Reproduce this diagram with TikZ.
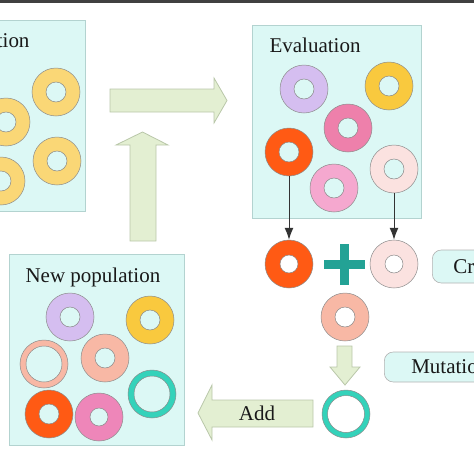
\documentclass[tikz,border=0pt]{standalone}
\usepackage{fontspec}
\setmainfont{Liberation Serif}
\usepackage{tikz}
\usetikzlibrary{arrows.meta,positioning}

\definecolor{panelcyan}{HTML}{DCF8F5}
\definecolor{panelline}{HTML}{B3D3D0}
\definecolor{arrowgreen}{HTML}{E3EFD2}
\definecolor{arrowline}{HTML}{B9C7A9}
\definecolor{goldA}{HTML}{FAD776}
\definecolor{goldB}{HTML}{F9C93E}
\definecolor{lilac}{HTML}{D5BEF0}
\definecolor{rose}{HTML}{EE80AB}
\definecolor{flame}{HTML}{FF5A14}
\definecolor{candy}{HTML}{F5A8CF}
\definecolor{blush}{HTML}{FBE2E0}
\definecolor{peach}{HTML}{F8B8A5}
\definecolor{aqua}{HTML}{34D2BA}
\definecolor{plusteal}{HTML}{23A295}
\definecolor{fuchsia}{HTML}{EE86B9}

% one individual: ring node plus coloured band with a hole
\newcommand{\donut}[4]{%
	\node[ringnode] (#1) at (#2) {};
	\draw[ringline, fill=#3, even odd rule] (#1.center) circle (24pt) (#1.center) circle (#4pt);
}

\begin{document}
\begin{tikzpicture}[
			x = 1pt, y = -1pt,
			every node/.style = {font = \fontsize{21}{24}\selectfont, text = black!90},
			ringnode/.style = {circle, minimum size = 48pt, inner sep = 0pt},
			ringline/.style = {draw = black!45, line width = 0.5pt},
			panel/.style = {draw = panelline, fill = panelcyan, line width = 0.8pt},
			bigarrow/.style = {draw = arrowline, fill = arrowgreen, line width = 0.8pt},
			tagbox/.style = {draw = black!30, fill = panelcyan, rounded corners = 9pt, line width = 0.6pt, anchor = west},
			pick/.style = {draw = black!80, line width = 1pt, -{Latex[length = 12pt, width = 9pt]}}
			]

			\useasboundingbox (0,0) rectangle (474,474);
			\fill[black!75] (0,0) rectangle (474,2.5);

			% initial population
			\draw[panel] (-10,20) rectangle (85,211);
			\node[anchor = base east] (inittxt) at (33,47) {Initialization};
			\donut{i1}{56,92}{goldA}{10}
			\donut{i2}{57,161}{goldA}{10}
			\donut{i3}{6,122}{goldA}{10}
			\donut{i4}{1,181}{goldA}{10}

			% block arrows
			\draw[bigarrow] (110,89) -- (214,89) -- (214,78) -- (227,100.5) -- (214,123) -- (214,112) -- (110,112) -- cycle;
			\draw[bigarrow] (130,241) -- (130,145) -- (116,145) -- (142.5,132) -- (168,145) -- (156,145) -- (156,241) -- cycle;

			% evaluation
			\draw[panel] (252,25) rectangle (421,218);
			\node[anchor = base west] (evaltxt) at (266,52) {Evaluation};
			\donut{e1}{304,89}{lilac}{10}
			\donut{e2}{389,86}{goldB}{10}
			\donut{e3}{348,128}{rose}{10}
			\donut{e4}{289,152}{flame}{10}
			\donut{e5}{334,188}{candy}{10}
			\donut{e6}{394,169}{blush}{10}

			% crossover
			\donut{c1}{289,264}{flame}{9}
			\donut{c2}{394,264}{blush}{9}
			\fill[plusteal] (324,260) rectangle (365,268.5);
			\fill[plusteal] (340,244) rectangle (348.5,285);
			\draw[pick] (e4) -- (c1);
			\draw[pick] (e6) -- (c2);
			\node[tagbox, minimum height = 33pt, inner xsep = 21pt, text depth = 0pt] (cross) at (432,266.5) {Crossover};

			\donut{kid}{345,317}{peach}{10}

			% mutation
			\draw[bigarrow] (337,346) -- (352,346) -- (352,367) -- (360,367) -- (345,385) -- (330,367) -- (337,367) -- cycle;
			\node[tagbox, minimum height = 30pt, inner xsep = 27pt] (mut) at (384,367) {Mutation};
			\donut{mkid}{346,414}{aqua}{18.5}

			% add back
			\draw[bigarrow] (313,400) -- (212,400) -- (212,385) -- (198,413) -- (212,440) -- (212,427) -- (313,427) -- cycle;
			\node (addtxt) at (257,413) {Add};

			% new population
			\draw[panel] (9,254) rectangle (184,445);
			\node[anchor = base west] (newtxt) at (22,282) {New population};
			\donut{n1}{70,317}{lilac}{10}
			\donut{n2}{150,320}{goldB}{10}
			\donut{n3}{44,364}{peach}{18}
			\donut{n4}{105,358}{peach}{10}
			\donut{n5}{152,394}{aqua}{18}
			\donut{n6}{49,414}{flame}{10}
			\donut{n7}{99,417}{fuchsia}{9}

		\end{tikzpicture}
\end{document}
